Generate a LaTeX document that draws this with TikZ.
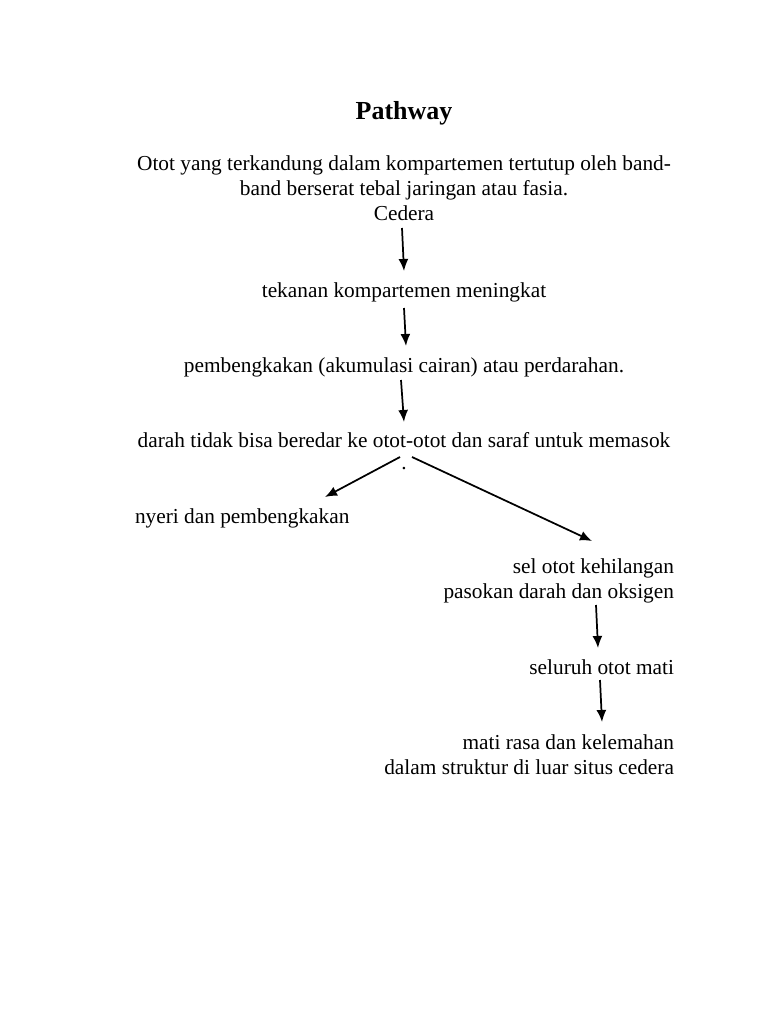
\documentclass[tikz,border=0pt]{standalone}
\usepackage{fontspec}
\setmainfont{Liberation Serif}
\usetikzlibrary{arrows.meta,calc}
\begin{document}
\begin{tikzpicture}[x=0.75pt,y=-0.75pt,
  txt/.style={inner sep=0pt,outer sep=0pt,font=\fontsize{16}{18.75}\selectfont},
  arr/.style={line width=1.3pt,-{Latex[length=9pt,width=7.5pt]}}]
\useasboundingbox[fill=white] (0,0) rectangle (768,1024);
\node[txt,anchor=base,font=\fontsize{19.5}{23}\selectfont\bfseries] (title) at (404,119) {Pathway};
\node[txt,anchor=base,align=center] (intro) at (404,195) {Otot yang terkandung dalam kompartemen tertutup oleh band-\\band berserat tebal jaringan atau fasia.};
\node[txt,anchor=base] (cedera) at (404,220) {Cedera};
\node[txt,anchor=base] (tekanan) at (404,297) {tekanan kompartemen meningkat};
\node[txt,anchor=base] (pemb) at (404,372) {pembengkakan (akumulasi cairan) atau perdarahan.};
\node[txt,anchor=base] (darah) at (404,447) {darah tidak bisa beredar ke otot-otot dan saraf untuk memasok};
\node[txt,anchor=base] (dot) at (404,469) {.};
\node[txt,anchor=base west] (nyeri) at (135,523) {nyeri dan pembengkakan};
\node[txt,anchor=base east,align=right] (sel) at (674,598) {sel otot kehilangan\\pasokan darah dan oksigen};
\node[txt,anchor=base east] (seluruh) at (674,674) {seluruh otot mati};
\node[txt,anchor=base east,align=right] (mati) at (674,774) {mati rasa dan kelemahan\\dalam struktur di luar situs cedera};
\draw[arr] ($(cedera.base)+(-2,8)$) -- ($(tekanan.base)+(0,-26)$);
\draw[arr] ($(tekanan.base)+(0,11)$) -- ($(pemb.base)+(2,-26)$);
\draw[arr] ($(pemb.base)+(-3,8)$) -- ($(darah.base)+(0,-25)$);
\draw[arr] ($(dot.base)+(-4,-12)$) -- ($(nyeri.base west)+(190,-26)$);
\draw[arr] ($(dot.base)+(8,-12)$) -- ($(sel.base east)+(-82,-57)$);
\draw[arr] ($(sel.base east)+(-78,7)$) -- ($(seluruh.base east)+(-76,-26)$);
\draw[arr] ($(seluruh.base east)+(-74,6)$) -- ($(mati.base east)+(-72,-52)$);
\end{tikzpicture}
\end{document}
